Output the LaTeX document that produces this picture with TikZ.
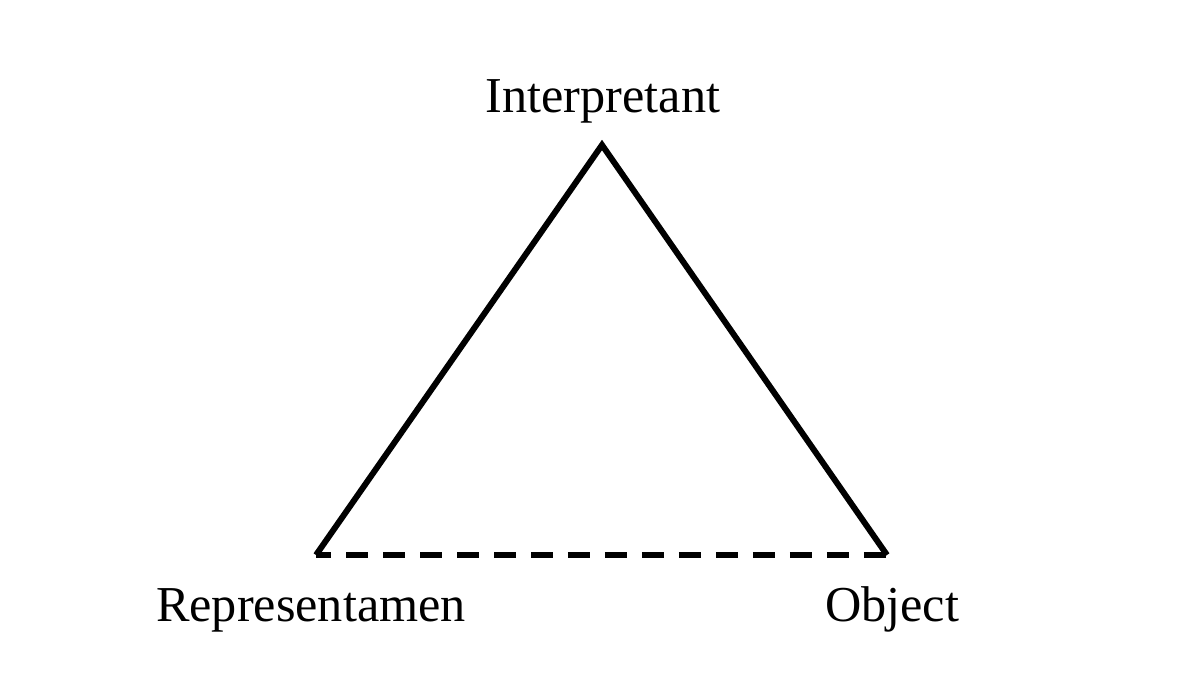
\documentclass[tikz,border=0pt]{standalone}
\usepackage{fontspec}
\setmainfont{Liberation Serif}
\usepackage{tikz}
\tikzset{
  every picture/.style={line cap=butt},
  sidestyle/.style={line width=1.7pt, line join=miter},
  basestyle/.style={line width=1.7pt, dash pattern=on 0.22cm off 0.15cm, dash phase=-0.3cm},
  labelstyle/.style={anchor=base, inner sep=0pt, font=\fontsize{14.3}{16}\selectfont},
}

\begin{document}
\begin{tikzpicture}
\useasboundingbox(0,0)rectangle(12,6.75);
\coordinate(interp)at(6.02,5.30);
\coordinate(repr)at(3.16,1.20);
\coordinate(obj)at(8.87,1.20);
\draw[sidestyle](repr)--(interp)--(obj);
\draw[basestyle](repr)--(obj);
\node[labelstyle](interplabel)at(6.03,5.62){Interpretant};
\node[labelstyle](reprlabel)at(3.11,0.53){Representamen};
\node[labelstyle](objlabel)at(8.92,0.53){Object};
\end{tikzpicture}
\end{document}
